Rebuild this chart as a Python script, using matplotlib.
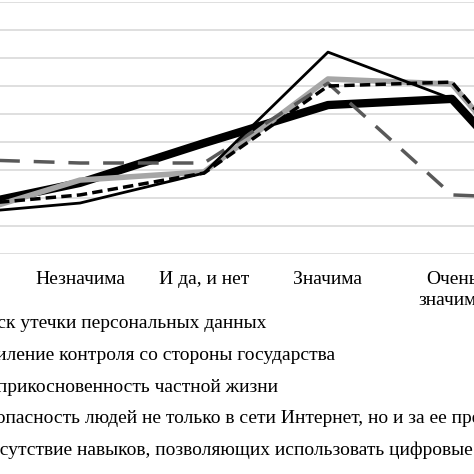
import matplotlib
matplotlib.use("Agg")
import matplotlib.pyplot as plt

# categories (first and last points lie outside the cropped view)
categories = ["", "Незначима", "И да, и нет", "Значима", "Очень\nзначима", ""]

leak = [1.43, 1.82, 2.89, 7.21, 5.54, 0.86]
control = [1.61, 2.54, 3.96, 5.32, 5.54, 0.70]
privacy = [1.29, 2.64, 2.93, 6.25, 6.07, 0.86]
safety = [1.71, 2.11, 2.89, 6.00, 6.14, 0.93]
skills = [3.39, 3.25, 3.25, 6.10, 2.11, 1.93]

legend_labels = [
    "Риск утечки персональных данных",
    "Усиление контроля со стороны государства",
    "Неприкосновенность частной жизни",
    "Безопасность людей не только в сети Интернет, но и за ее пределами",
    "Отсутствие навыков, позволяющих использовать цифровые технологии",
]

W = H = 474
fig = plt.figure(figsize=(4.74, 4.74), dpi=100)
plt.rcParams["font.family"] = ["Liberation Serif", "DejaVu Serif"]

# axes positioned in pixels so the picture is cropped like the reference
left_px, right_px = -106, 638
top_px, bottom_px = 2, 254
ax = fig.add_axes([left_px / W, (H - bottom_px) / H,
                   (right_px - left_px) / W, (bottom_px - top_px) / H])

x = range(len(categories))
ax.plot(x, leak, color="black", lw=2.0, zorder=5)
ax.plot(x, control, color="black", lw=6.0, zorder=3)
ax.plot(x, privacy, color="#a6a6a6", lw=4.0, zorder=4)
ax.plot(x, safety, color="black", lw=2.5, ls=(0, (3, 1.5)), zorder=6)
ax.plot(x, skills, color="#595959", lw=2.5, ls=(0, (6, 4)), zorder=4)

ax.set_xlim(-0.5, 5.5)
ax.set_ylim(0, 9)
ax.set_yticks(range(0, 10))
ax.yaxis.grid(True, color="#d9d9d9", lw=1.2)
ax.set_axisbelow(True)
ax.tick_params(left=False, labelleft=False, bottom=False)
ax.set_xticks(list(x))
ax.set_xticklabels(categories, fontsize=14, linespacing=1.3)
ax.tick_params(axis="x", pad=9)
for s in ax.spines.values():
    s.set_visible(False)

# legend rows (handles are outside the cropped view)
text_x = [-24, -24, -26, -32, -23]
for i, (lab, tx) in enumerate(zip(legend_labels, text_x)):
    y_px = 324 + i * 31.5
    fig.text(tx / W, 1 - y_px / H, lab, fontsize=14, va="center", ha="left")

fig.savefig("out.png", dpi=100)
